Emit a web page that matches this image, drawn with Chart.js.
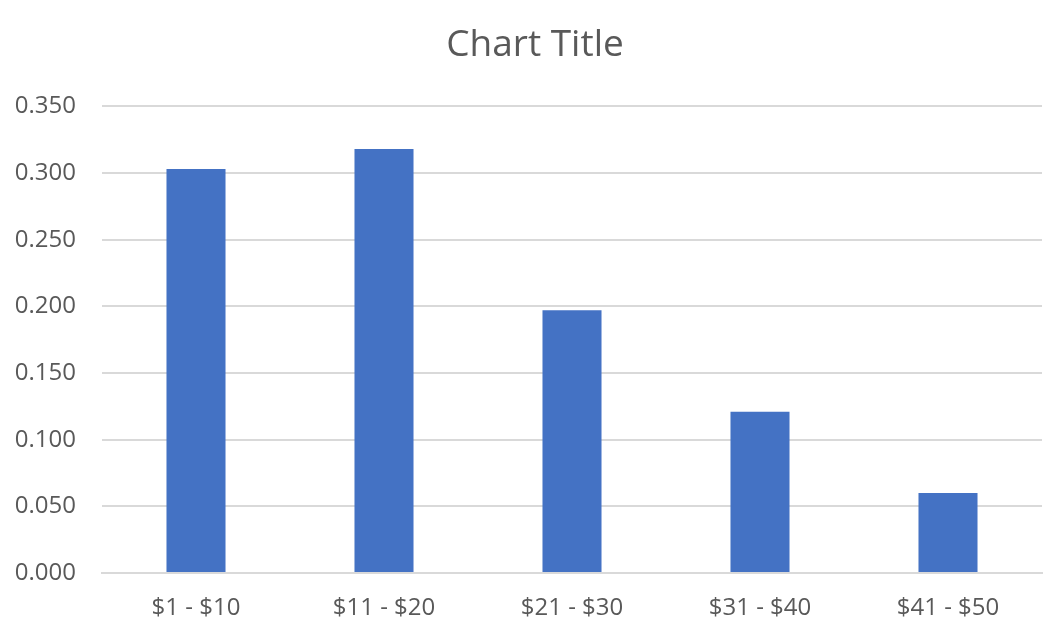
<!DOCTYPE html>
<html>
<head>
<meta charset="utf-8">
<script src="https://cdn.jsdelivr.net/npm/chart.js@4.4.0/dist/chart.umd.min.js"></script>
<style>
  html, body { margin: 0; padding: 0; background: #fff; }
  #wrap { width: 1056px; height: 632px; }
</style>
</head>
<body>
<div id="wrap"><canvas id="chart" width="1056" height="632"></canvas></div>
<script>
const categories = ['$1 - $10', '$11 - $20', '$21 - $30', '$31 - $40', '$41 - $50'];
const values = [0.303, 0.318, 0.197, 0.121, 0.060];
const yTicks = [0, 0.05, 0.1, 0.15, 0.2, 0.25, 0.3, 0.35];

const textColor = '#595959';
const gridColor = '#d9d9d9';
const fontFamily = "'Open Sans', sans-serif";

new Chart(document.getElementById('chart').getContext('2d'), {
  type: 'bar',
  data: {
    labels: categories,
    datasets: [{
      label: 'Series1',
      data: values,
      backgroundColor: '#4472c4',
      borderWidth: 0,
      categoryPercentage: 1,
      barPercentage: 0.314
    }]
  },
  options: {
    responsive: false,
    animation: false,
    // title is centred on the whole picture, so pad left and keep a spacer axis on the right
    layout: { padding: { left: 14, right: 0, top: 0, bottom: 0 } },
    plugins: {
      legend: { display: false },
      tooltip: { enabled: false },
      title: {
        display: true,
        text: 'Chart Title',
        color: textColor,
        font: { family: fontFamily, size: 37, weight: 'normal' },
        padding: { top: 23, bottom: 39 }
      }
    },
    scales: {
      y: {
        min: 0,
        max: 0.35,
        afterBuildTicks: (axis) => { axis.ticks = yTicks.map(v => ({ value: v })); },
        afterFit: (axis) => { axis.width = 88; },
        ticks: {
          color: textColor,
          font: { family: fontFamily, size: 24 },
          padding: 26,
          callback: (v) => Number(v).toFixed(3)
        },
        grid: { color: gridColor, lineWidth: 2, drawTicks: false },
        border: { display: false }
      },
      spacer: {
        position: 'right',
        display: true,
        min: 0,
        max: 1,
        afterFit: (axis) => { axis.width = 14; },
        ticks: { display: false },
        grid: { display: false, drawTicks: false },
        border: { display: false }
      },
      x: {
        afterFit: (axis) => { axis.height = 59; },
        ticks: {
          color: textColor,
          font: { family: fontFamily, size: 24 },
          padding: 21
        },
        grid: { display: false, drawTicks: false },
        border: { display: true, color: gridColor, width: 2 }
      }
    }
  }
});
</script>
</body>
</html>
